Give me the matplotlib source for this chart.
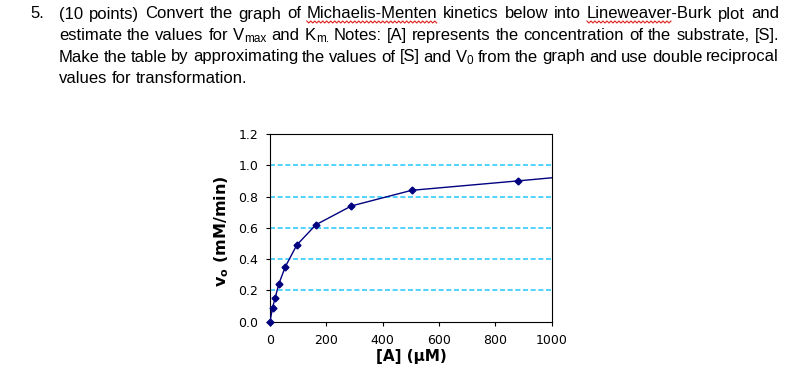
"""
Michaelis-Menten worksheet figure: question text on top, v0 vs [A] chart below
"""

import matplotlib
matplotlib.use("Agg")
import matplotlib.pyplot as plt
from matplotlib.lines import Line2D
from matplotlib.ticker import FormatStrFormatter
import numpy as np

W, H = 798, 384

# substrate concentration [A] (uM) and initial velocity v0 (mM/min)
conc = [0, 9, 18, 31, 54, 95, 163, 289, 503, 879]
velocity = [0, 0.09, 0.15, 0.24, 0.35, 0.49, 0.62, 0.74, 0.84, 0.90]
# the curve keeps going to the right edge after the last marker
curve_end = (1000, 0.92)

x_ticks = [0, 200, 400, 600, 800, 1000]
y_ticks = [0.0, 0.2, 0.4, 0.6, 0.8, 1.0, 1.2]
grid_levels = [0.2, 0.4, 0.6, 0.8, 1.0]

# question text, word by word; tuples are (text, is_subscript)
line1 = "(10 points) Convert the graph of Michaelis-Menten kinetics below into Lineweaver-Burk plot and".split()
line2 = ("estimate the values for".split() + [[("V", 0), ("max", 1)], "and", [("K", 0), ("m.", 1)]]
         + "Notes: [A] represents the concentration of the substrate, [S].".split())
line3 = ("Make the table by approximating the values of [S] and".split() + [[("V", 0), ("0", 1)]]
         + "from the graph and use double reciprocal".split())
line4 = "values for transformation.".split()
spell_marked = ["Michaelis-Menten", "Lineweaver-Burk"]

TEXT_FONT = ["Liberation Sans", "DejaVu Sans"]
MAIN_SIZE, SUB_SIZE, SUB_DROP = 12, 8.5, 2.5

fig = plt.figure(figsize=(W / 100, H / 100), dpi=100)
renderer = fig.canvas.get_renderer()


def advance(s, size):
    # width of a string including its trailing side bearing
    t = fig.text(0, 0, s + "|", fontsize=size, family=TEXT_FONT)
    w1 = t.get_window_extent(renderer).width
    t.set_text("|")
    w2 = t.get_window_extent(renderer).width
    t.remove()
    return w1 - w2


def pieces(word):
    if isinstance(word, str):
        return [(word, 0)]
    return word


def word_width(word):
    return sum(advance(s, SUB_SIZE if sub else MAIN_SIZE) for s, sub in pieces(word))


def draw_word(x, y, word):
    for s, sub in pieces(word):
        size = SUB_SIZE if sub else MAIN_SIZE
        dy = SUB_DROP if sub else 0
        fig.text(x / W, 1 - (y + dy) / H, s, fontsize=size, family=TEXT_FONT,
                 va="baseline", ha="left", color="black")
        x += advance(s, size)
    return x


def draw_line(x0, y, words, right=None):
    widths = [word_width(w) for w in words]
    space = advance(" ", MAIN_SIZE)
    if right is not None:
        space = (right - x0 - sum(widths)) / (len(words) - 1)
    x = x0
    for w, ww in zip(words, widths):
        draw_word(x, y, w)
        if isinstance(w, str) and any(w.startswith(m.split("-")[0]) for m in spell_marked):
            # red wavy spell-check underline (only the first part of the hyphenated word for Lineweaver)
            end = x + ww if w == "Michaelis-Menten" else x + word_width("Lineweaver")
            xs = np.arange(x, end, 2.0)
            ys = y + 2.5 + np.where(np.arange(len(xs)) % 2 == 0, 0, 2.0)
            fig.add_artist(Line2D(xs / W, 1 - ys / H, color="#e02020", lw=0.8,
                                  transform=fig.transFigure))
        x += ww + space


TEXT_LEFT, TEXT_RIGHT = 59, 779
fig.text(30 / W, 1 - 18.5 / H, "5.", fontsize=MAIN_SIZE, family=TEXT_FONT, va="baseline")
draw_line(TEXT_LEFT, 18.5, line1, TEXT_RIGHT)
draw_line(TEXT_LEFT, 40, line2, TEXT_RIGHT)
draw_line(TEXT_LEFT, 61.5, line3, TEXT_RIGHT)
draw_line(TEXT_LEFT, 83, line4)

# chart
ax = fig.add_axes([270 / W, 1 - 321.7 / H, 281.7 / W, 187.7 / H])
ax.set_xlim(0, 1000)
ax.set_ylim(0, 1.2)

for lvl in grid_levels:
    ax.axhline(lvl, color="#33ccff", lw=1.2, dashes=(3, 1.6), zorder=1)

ax.plot(list(conc) + [curve_end[0]], list(velocity) + [curve_end[1]],
        color="#000080", lw=1.0, zorder=3)
ax.plot(conc, velocity, ls="none", marker="D", ms=3.5, color="#000080",
        zorder=4, clip_on=False)

ax.set_xticks(x_ticks)
ax.set_yticks(y_ticks)
ax.yaxis.set_major_formatter(FormatStrFormatter("%.1f"))
ax.tick_params(direction="out", length=3, width=0.8, labelsize=9, colors="black")
ax.tick_params(axis="y", pad=5.5)
ax.tick_params(axis="x", pad=6)
for sp in ax.spines.values():
    sp.set_linewidth(0.8)

fig.text(222 / W, 1 - 231 / H, r"$\mathbf{v_o}$ (mM/min)", rotation=90,
         fontsize=11.5, fontweight="bold", ha="center", va="center")
fig.text(411 / W, 1 - 357 / H, "[A] (\u03bcM)", fontsize=11, fontweight="bold",
         ha="center", va="center")

fig.savefig("out.png", dpi=100)
